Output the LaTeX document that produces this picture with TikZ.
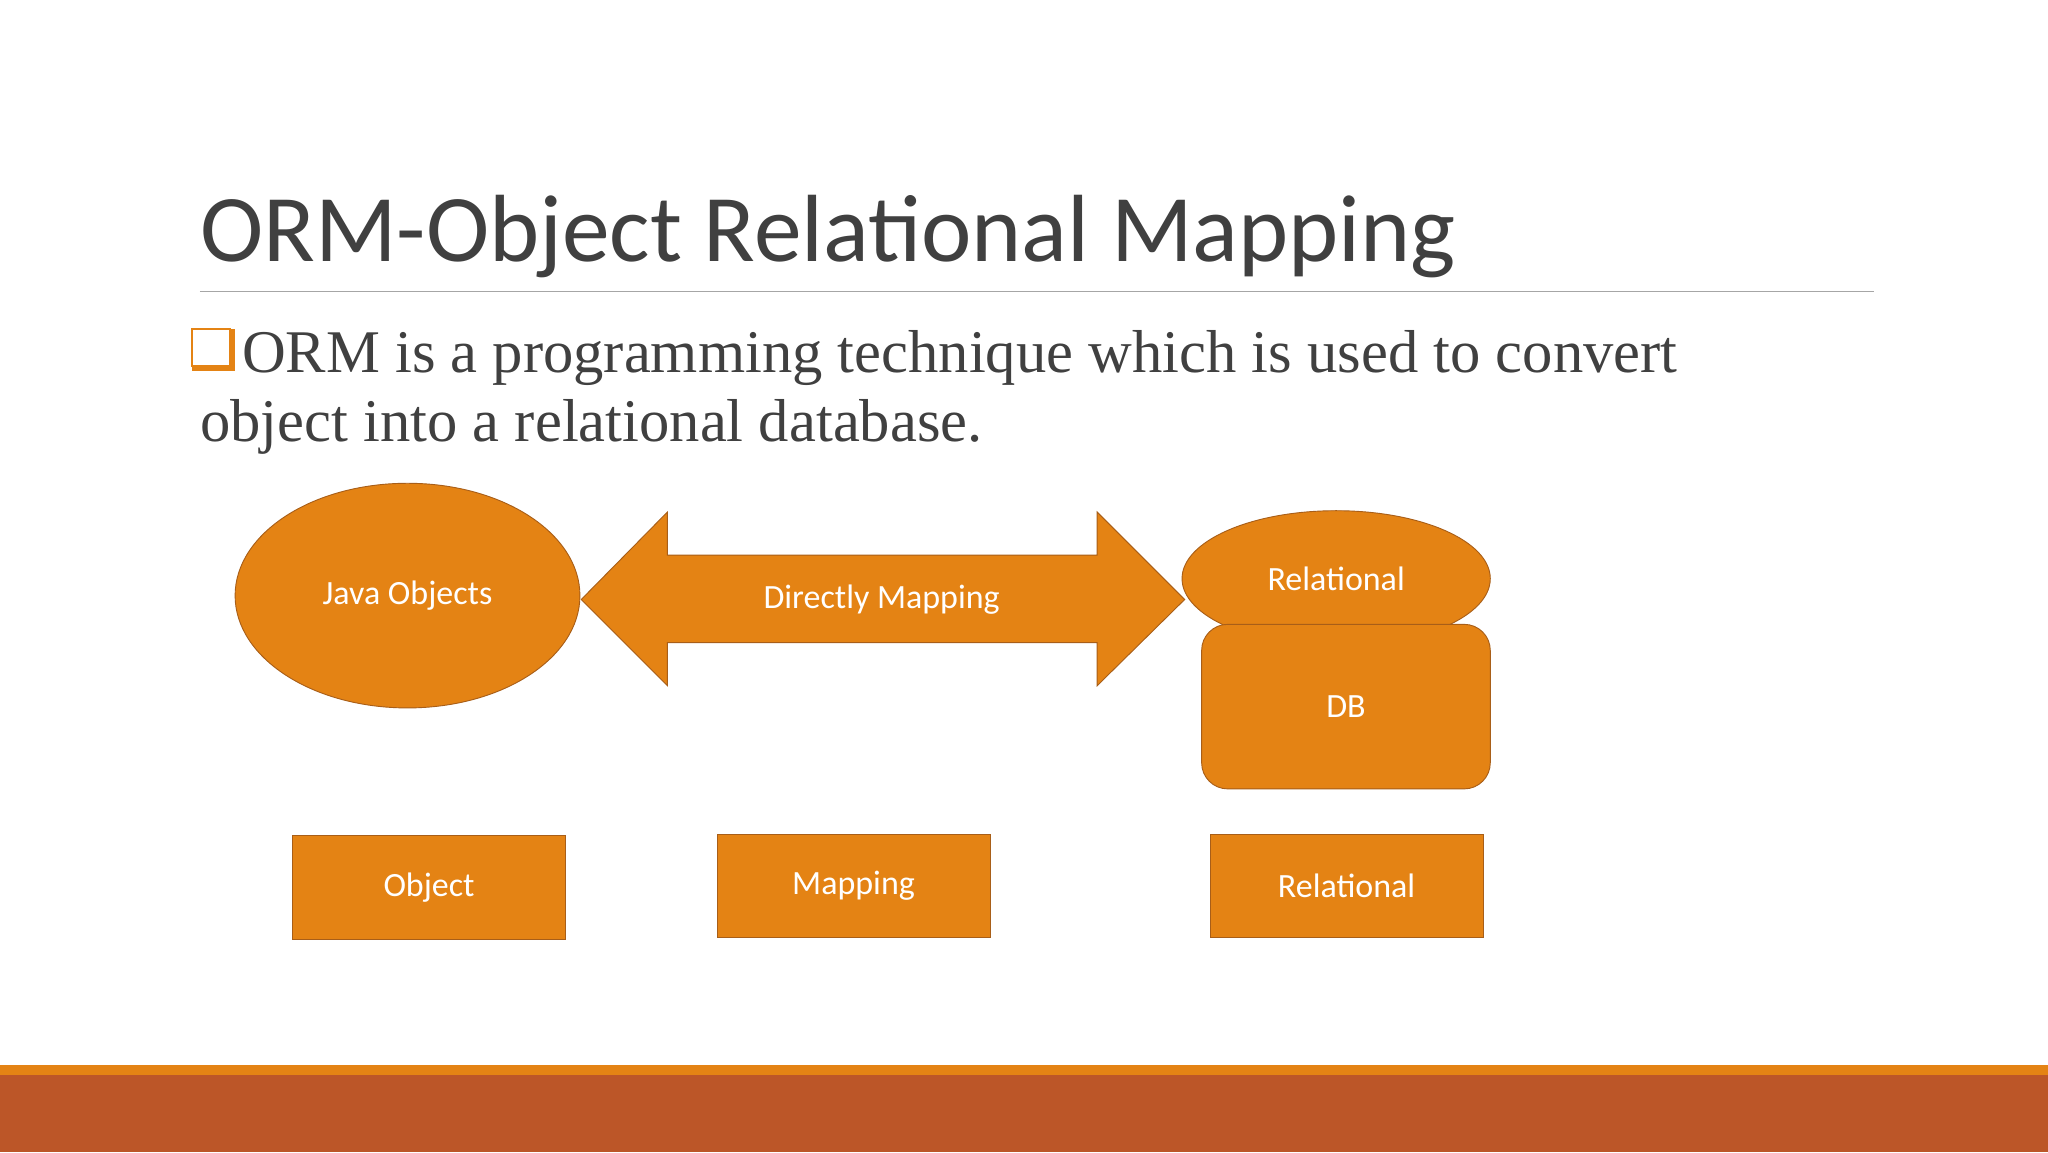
\documentclass[tikz,border=0pt]{standalone}
\usepackage{fontspec}
\setmainfont{Liberation Serif}
\newfontfamily\calib{Carlito}
\usetikzlibrary{shapes.geometric}
\definecolor{org}{HTML}{E48314}
\definecolor{orgd}{HTML}{A85E18}
\definecolor{band}{HTML}{BC5628}
\definecolor{txt}{HTML}{404040}
\tikzset{x=0.25mm,y=-0.25mm,
 shp/.style={fill=org,draw=orgd,line width=0.5pt},
 lbl/.style={text=white,font=\calib\fontsize{18.5}{20}\selectfont},
 boxs/.style={shp,lbl,rectangle,minimum width=52.25mm,minimum height=19.75mm}}
\begin{document}
\begin{tikzpicture}
\useasboundingbox (0,0) rectangle (1568,882);
\fill[white] (0,0) rectangle (1568,882);
\fill[org] (0,815) rectangle (1568,823);
\fill[band] (0,823) rectangle (1568,882);
\node[anchor=base west,inner sep=0,text=txt,font=\calib\fontsize{52}{60}\selectfont] (title) at (153,200) {ORM-Object Relational Mapping};
\draw[gray!70,line width=0.6pt] (153,223) -- (1435,223);
\draw[org,line width=1.2pt,fill=white] (147,252) rectangle (176,280);
\fill[org] (147,280) rectangle (179,284);
\fill[org] (176,252) rectangle (180,284);
\node[anchor=base west,inner sep=0,text=txt,font=\fontsize{33}{40}\selectfont] (b1) at (185,285) {ORM is a programming technique which is used to convert};
\node[anchor=base west,inner sep=0,text=txt,font=\fontsize{33}{40}\selectfont] (b2) at (153,338) {object into a relational database.};
\node[shp,lbl,ellipse,minimum width=66mm,minimum height=43mm] (java) at (312,456) {Java Objects};
\draw[shp] (445,459) -- (511,392) -- (511,425) -- (840,425) -- (840,392) -- (907,459) -- (840,525) -- (840,492) -- (511,492) -- (511,525) -- cycle;
\node[lbl] (dm) at (675,459) {Directly Mapping};
\node[shp,lbl,ellipse,minimum width=59mm,minimum height=26mm] (rel) at (1023,443) {};
\node[lbl] (relt) at (1023,443) {Relational};
\node[shp,lbl,rectangle,rounded corners=5mm,minimum width=55.25mm,minimum height=31.5mm] (db) at (1030.5,541) {DB};
\node[boxs] (obj) at (328.5,679.5) {Object};
\node[boxs] (map) at (653.5,678.5) {Mapping};
\node[boxs] (relb) at (1031,678.5) {Relational};
\end{tikzpicture}
\end{document}
